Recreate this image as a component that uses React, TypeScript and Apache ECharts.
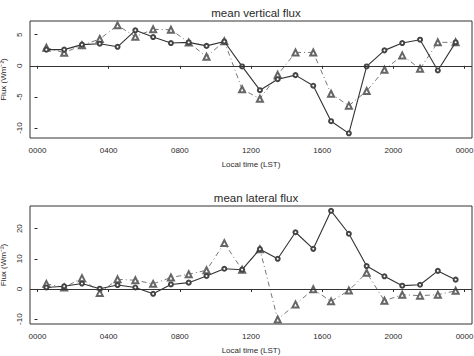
import React, { useEffect, useRef } from "react";
import * as echarts from "echarts";

const hours = [0.5, 1.5, 2.5, 3.5, 4.5, 5.5, 6.5, 7.5, 8.5, 9.5, 10.5, 11.5, 12.5, 13.5, 14.5, 15.5, 16.5, 17.5, 18.5, 19.5, 20.5, 21.5, 22.5, 23.5];

const verticalCircles = [2.6, 2.6, 3.4, 3.55, 3.05, 5.7, 4.62, 3.66, 3.76, 3.2, 3.9, -0.1, -3.92, -2.15, -1.5, -3.2, -8.9, -10.85, -0.1, 2.48, 3.66, 4.2, -0.75, 3.77];
const verticalTriangles = [2.9, 2.1, 3.3, 4.3, 6.5, 4.68, 5.86, 5.8, 3.76, 1.45, 3.95, -3.76, -5.3, -1.45, 2.15, 2.15, -4.5, -6.4, -4.05, -0.64, 1.67, -0.48, 3.77, 3.77];

const lateralCircles = [0.5, 0.9, 1.8, 0.1, 1.3, 0.5, -1.6, 1.5, 2.1, 4.3, 6.7, 6.4, 13.2, 10.0, 18.8, 13.3, 25.9, 18.3, 7.6, 4.2, 1.1, 1.4, 6.0, 3.1];
const lateralTriangles = [1.7, 0.5, 3.6, -1.3, 3.2, 2.9, 1.7, 3.8, 4.9, 6.2, 15.2, 6.4, 13.2, -10.1, -5.1, -0.1, -4.1, -0.5, 5.4, -3.9, -1.9, -2.2, -1.9, -0.6];

const xTicks = [0, 4, 8, 12, 16, 20, 24];
const verticalTicks = [-10, -5, 0, 5];
const lateralTicks = [-10, 0, 10, 20];

const titles = ["mean vertical flux", "mean lateral flux"];
const xName = "Local time (LST)";
const yName = "Flux (Wm\u207B\u00B2)";

const FONT = "'Liberation Sans', Arial, sans-serif";
const INK = "#2a2a2a";

function pairs(ys: number[]) {
  return ys.map((y, i) => [hours[i], y]);
}

export default function App() {
  const ref = useRef<HTMLDivElement>(null);
  useEffect(() => {
    if (!ref.current) return;
    const chart = echarts.init(ref.current, null, { renderer: "svg" });
    const grids = [
      { left: 30, top: 21, width: 442, height: 117 },
      { left: 30, top: 206, width: 442, height: 118 },
    ];
    const yRanges = [
      { min: -11.6, max: 7.2, ticks: verticalTicks },
      { min: -11.6, max: 27.5, ticks: lateralTicks },
    ];
    const xAxis = grids.map((_, i) => ({
      type: "value",
      gridIndex: i,
      min: -0.42,
      max: 24.42,
      splitLine: { show: false },
      axisLine: { show: false },
      axisTick: { show: true, length: 3, customValues: xTicks, lineStyle: { color: INK } },
      axisLabel: {
        customValues: xTicks,
        color: INK,
        fontFamily: FONT,
        fontSize: 8,
        margin: 8,
        formatter: (v: number) => String((v % 24) * 100).padStart(4, "0"),
      },
      name: xName,
      nameLocation: "middle",
      nameGap: 22,
      nameTextStyle: { color: INK, fontFamily: FONT, fontSize: 8 },
    }));
    const yAxis = grids.map((_, i) => ({
      type: "value",
      gridIndex: i,
      min: yRanges[i].min,
      max: yRanges[i].max,
      splitLine: { show: false },
      axisLine: { show: false },
      axisTick: { show: true, length: 3, customValues: yRanges[i].ticks, lineStyle: { color: INK } },
      axisLabel: {
        customValues: yRanges[i].ticks,
        color: INK,
        fontFamily: FONT,
        fontSize: 8,
        rotate: 90,
        margin: 7,
      },
      name: yName,
      nameLocation: "middle",
      nameRotate: 90,
      nameGap: 20,
      nameTextStyle: { color: INK, fontFamily: FONT, fontSize: 8 },
    }));
    const mkSeries = (data: number[], grid: number, solid: boolean) => ({
      type: "line",
      xAxisIndex: grid,
      yAxisIndex: grid,
      data: pairs(data),
      symbol: solid ? "emptyCircle" : "emptyTriangle",
      symbolSize: solid ? 4 : 6,
      lineStyle: solid
        ? { color: "#333", width: 1.1, type: "solid" }
        : { color: "#777", width: 1, type: [5, 3, 1, 3] },
      itemStyle: { color: solid ? "#444" : "#666", borderWidth: solid ? 0.9 : 0.7 },
      z: solid ? 3 : 2,
      markLine: solid
        ? {
            silent: true,
            symbol: "none",
            label: { show: false },
            lineStyle: { color: "#333", width: 1, type: "solid" },
            data: [{ yAxis: 0 }],
          }
        : undefined,
    });
    chart.setOption({
      animation: false,
      backgroundColor: "#fff",
      title: titles.map((t, i) => ({
        text: t,
        left: 251,
        textAlign: "center",
        top: i === 0 ? 2 : 187,
        textStyle: { color: INK, fontFamily: FONT, fontSize: 11.5, fontWeight: "normal" },
      })),
      grid: grids.map((g) => ({
        ...g,
        outerBoundsMode: "none",
        containLabel: false,
        show: true,
        borderColor: "#333",
        borderWidth: 1,
        backgroundColor: "transparent",
      })),
      xAxis,
      yAxis,
      series: [
        mkSeries(verticalTriangles, 0, false),
        mkSeries(verticalCircles, 0, true),
        mkSeries(lateralTriangles, 1, false),
        mkSeries(lateralCircles, 1, true),
      ],
    });
    return () => chart.dispose();
  }, []);
  return <div ref={ref} style={{ position: "fixed", left: 0, top: 0, width: 474, height: 356 }} />;
}
